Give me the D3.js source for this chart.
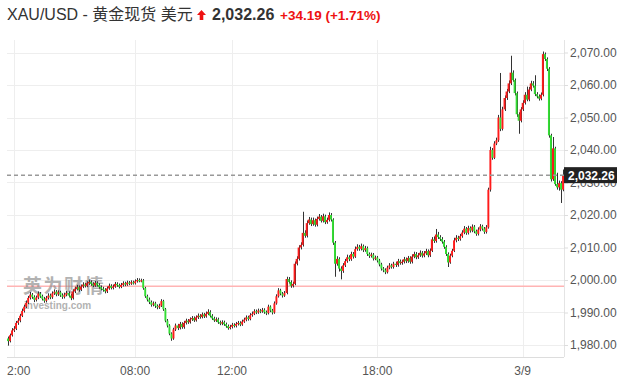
<!DOCTYPE html>
<html><head><meta charset="utf-8">
<script src="https://cdn.jsdelivr.net/npm/d3@7"></script>
<style>
html,body{margin:0;padding:0;background:#fff;}
svg{display:block;}
</style></head>
<body>
<svg id="chart" width="629" height="386"></svg>
<script>
// ---- data (5-minute candles, XAU/USD) ----
const closes = [
1981.2,1983.0,1984.5,1985.0,1986.8,1987.5,1989.0,1990.5,1991.8,1993.0,1994.5,1995.5,
1994.8,1993.9,1994.6,1995.8,1995.0,1994.2,1993.6,1994.5,1995.2,1994.7,1995.9,1996.4,
1995.6,1996.2,1995.3,1994.8,1995.5,1996.0,1995.2,1994.4,1996.5,1997.2,1997.8,1997.0,
1998.0,1998.6,1998.2,1999.0,1999.4,1998.8,1998.3,1999.1,1998.5,1997.8,1997.3,1997.0,
1996.5,1997.4,1998.2,1997.6,1998.0,1998.8,1998.4,1997.9,1998.5,1999.0,1998.6,1999.2,
1998.9,1999.3,1999.0,1999.6,2000.0,1999.8,1999.9,1997.5,1995.0,1994.0,1993.2,1992.4,
1992.8,1992.0,1991.6,1992.1,1993.5,1991.0,1987.5,1986.0,1983.5,1982.0,1984.8,1986.0,
1985.2,1986.5,1985.5,1986.8,1987.5,1987.0,1987.9,1988.3,1987.6,1988.5,1989.0,1988.6,
1989.4,1988.8,1989.6,1990.2,1989.0,1988.2,1987.6,1987.9,1987.0,1986.6,1987.0,1986.4,
1985.8,1985.2,1985.6,1986.2,1985.9,1986.5,1986.8,1986.3,1987.2,1987.8,1988.5,1988.0,
1989.2,1989.6,1990.4,1990.0,1990.6,1990.3,1990.8,1990.1,1989.8,1991.8,1990.6,1990.0,
1992.8,1995.0,1996.8,1995.8,1995.2,1996.0,2000.3,1999.4,1998.2,1998.8,2005.0,2006.5,
2010.0,2010.8,2014.5,2013.6,2017.5,2018.6,2017.2,2018.4,2017.0,2018.8,2019.5,2018.2,
2019.6,2017.8,2018.5,2020.0,2018.6,2011.5,2005.0,2006.5,2003.5,2002.8,2004.5,2005.8,
2007.0,2006.4,2008.0,2007.2,2009.5,2010.2,2009.6,2010.4,2009.2,2009.8,2008.0,2007.4,
2007.8,2006.6,2006.9,2006.0,2004.8,2003.5,2003.0,2002.4,2003.8,2004.5,2004.0,2005.0,
2004.6,2005.8,2005.2,2005.6,2006.4,2005.8,2006.8,2005.6,2007.2,2008.0,2007.0,2007.6,
2008.4,2007.5,2008.2,2008.9,2007.6,2009.0,2012.5,2012.0,2014.0,2013.2,2012.6,2011.8,
2010.2,2008.0,2005.4,2007.5,2009.0,2012.2,2013.0,2012.6,2013.5,2014.6,2015.8,2014.5,
2016.0,2015.2,2016.4,2015.0,2014.2,2015.5,2016.5,2015.8,2014.8,2016.2,2027.8,2040.0,
2037.6,2042.0,2043.0,2050.0,2046.5,2052.5,2056.0,2058.0,2060.5,2063.8,2061.5,2057.5,
2051.0,2049.0,2052.5,2054.5,2057.0,2055.5,2058.6,2060.5,2059.8,2057.2,2056.5,2055.8,
2057.0,2069.5,2068.0,2065.0,2044.5,2031.0,2040.5,2029.5,2028.5,2029.8,2027.8,2032.26
];
const opens = [
1982.0,1981.2,1983.0,1984.5,1985.0,1986.8,1987.5,1989.0,1990.5,1991.8,1993.0,1994.5,
1995.5,1994.8,1993.9,1994.6,1995.8,1995.0,1994.2,1993.6,1994.5,1995.2,1994.7,1995.9,
1996.4,1995.6,1996.2,1995.3,1994.8,1995.5,1996.0,1995.2,1994.4,1996.5,1997.2,1997.8,
1997.0,1998.0,1998.6,1998.2,1999.0,1999.4,1998.8,1998.3,1999.1,1998.5,1997.8,1997.3,
1997.0,1996.5,1997.4,1998.2,1997.6,1998.0,1998.8,1998.4,1997.9,1998.5,1999.0,1998.6,
1999.2,1998.9,1999.3,1999.0,1999.6,2000.0,1999.8,1999.9,1997.5,1995.0,1994.0,1993.2,
1992.4,1992.8,1992.0,1991.6,1992.1,1993.5,1991.0,1987.5,1986.0,1983.5,1982.0,1984.8,
1986.0,1985.2,1986.5,1985.5,1986.8,1987.5,1987.0,1987.9,1988.3,1987.6,1988.5,1989.0,
1988.6,1989.4,1988.8,1989.6,1990.2,1989.0,1988.2,1987.6,1987.9,1987.0,1986.6,1987.0,
1986.4,1985.8,1985.2,1985.6,1986.2,1985.9,1986.5,1986.8,1986.3,1987.2,1987.8,1988.5,
1988.0,1989.2,1989.6,1990.4,1990.0,1990.6,1990.3,1990.8,1990.1,1989.8,1991.8,1990.6,
1990.0,1992.8,1995.0,1996.8,1995.8,1995.2,1996.0,2000.3,1999.4,1998.2,1998.8,2005.0,
2006.5,2010.0,2010.8,2014.5,2013.6,2017.5,2018.6,2017.2,2018.4,2017.0,2018.8,2019.5,
2018.2,2019.6,2017.8,2018.5,2020.0,2018.6,2011.5,2005.0,2006.5,2003.5,2002.8,2004.5,
2005.8,2007.0,2006.4,2008.0,2007.2,2009.5,2010.2,2009.6,2010.4,2009.2,2009.8,2008.0,
2007.4,2007.8,2006.6,2006.9,2006.0,2004.8,2003.5,2003.0,2002.4,2003.8,2004.5,2004.0,
2005.0,2004.6,2005.8,2005.2,2005.6,2006.4,2005.8,2006.8,2005.6,2007.2,2008.0,2007.0,
2007.6,2008.4,2007.5,2008.2,2008.9,2007.6,2009.0,2012.5,2012.0,2014.0,2013.2,2012.6,
2011.8,2010.2,2008.0,2005.4,2007.5,2009.0,2012.2,2013.0,2012.6,2013.5,2014.6,2015.8,
2014.5,2016.0,2015.2,2016.4,2015.0,2014.2,2015.5,2016.5,2015.8,2014.8,2016.2,2027.8,
2040.0,2037.6,2042.0,2043.0,2050.0,2046.5,2052.5,2056.0,2058.0,2060.5,2063.8,2061.5,
2057.5,2051.0,2049.0,2052.5,2054.5,2057.0,2055.5,2058.6,2060.5,2059.8,2057.2,2056.5,
2055.8,2057.0,2069.5,2068.0,2065.0,2044.5,2031.0,2040.5,2029.5,2028.5,2029.8,2027.8
];
const highs = [
1982.6,1983.5,1985.2,1985.8,1987.4,1988.3,1989.6,1991.2,1992.4,1993.7,1995.1,1996.3,
1996.0,1995.3,1995.2,1996.5,1996.3,1995.5,1994.8,1995.1,1995.9,1995.8,1996.5,1997.1,
1996.9,1996.8,1996.7,1995.9,1996.1,1996.7,1996.5,1995.7,1997.1,1997.9,1998.5,1998.3,
1998.6,1999.3,1999.1,1999.6,2000.1,1999.9,1999.3,1999.7,1999.6,1999.0,1998.3,1997.9,
1997.5,1998.0,1998.9,1998.7,1998.6,1999.4,1999.3,1998.9,1999.1,1999.6,1999.5,1999.8,
1999.7,1999.9,1999.8,2000.2,2000.6,2000.5,2000.4,2000.3,1997.9,1995.5,1994.6,1993.7,
1993.4,1993.3,1992.5,1992.7,1994.1,1993.9,1991.4,1988.0,1986.4,1983.9,1985.3,1986.6,
1986.5,1987.1,1987.0,1987.4,1988.1,1988.0,1988.5,1988.9,1988.8,1989.1,1989.7,1989.5,
1990.0,1989.9,1990.3,1991.0,1990.7,1989.5,1988.7,1988.5,1988.4,1987.5,1987.6,1987.5,
1986.9,1986.3,1986.2,1986.8,1986.7,1987.1,1987.4,1987.3,1987.8,1988.4,1989.1,1989.0,
1989.8,1990.3,1991.0,1990.9,1991.2,1991.1,1991.4,1991.3,1990.6,1992.4,1992.2,1991.1,
1993.4,1995.6,1997.5,1997.3,1996.3,1996.6,2001.0,2000.9,1999.9,1999.5,2005.7,2007.3,
2010.7,2011.6,2021.0,2015.3,2018.3,2019.4,2019.2,2019.2,2018.9,2019.5,2020.3,2020.0,
2020.4,2020.1,2019.2,2020.8,2020.6,2019.0,2012.0,2007.3,2007.0,2004.2,2005.2,2006.5,
2007.8,2007.6,2008.7,2008.6,2010.3,2011.0,2010.8,2011.2,2010.9,2010.5,2010.3,2008.5,
2008.4,2008.3,2007.5,2007.4,2006.5,2005.3,2004.0,2003.6,2004.4,2005.2,2005.0,2005.6,
2005.6,2006.5,2006.3,2006.2,2007.1,2006.9,2007.4,2007.3,2007.9,2008.7,2008.6,2008.3,
2009.1,2008.9,2008.9,2009.6,2009.4,2009.7,2013.2,2013.4,2015.7,2014.8,2013.8,2013.2,
2012.3,2010.7,2008.5,2008.1,2009.6,2013.0,2013.8,2013.6,2014.2,2015.3,2016.6,2016.3,
2016.7,2016.5,2017.1,2016.9,2015.5,2016.2,2017.2,2017.0,2016.3,2016.9,2028.4,2041.0,
2040.6,2042.7,2043.8,2050.8,2063.7,2053.3,2056.8,2058.8,2061.4,2069.0,2064.5,2062.0,
2058.0,2051.6,2053.2,2055.3,2057.8,2059.5,2059.4,2061.3,2061.2,2063.0,2057.8,2057.1,
2057.7,2070.3,2070.0,2068.5,2065.5,2045.0,2044.0,2041.0,2033.0,2030.6,2030.4,2034.0
];
const lows = [
1979.8,1980.8,1982.6,1984.0,1984.6,1986.2,1987.0,1988.6,1990.0,1991.3,1992.6,1994.0,
1994.2,1993.2,1993.4,1994.1,1994.5,1993.7,1993.0,1993.1,1994.0,1994.1,1994.2,1995.4,
1995.0,1995.1,1994.8,1994.2,1994.3,1995.0,1994.7,1993.8,1994.0,1996.0,1996.8,1996.4,
1996.6,1997.5,1997.7,1997.8,1998.5,1998.2,1997.8,1997.9,1998.0,1997.3,1996.8,1996.4,
1995.9,1996.0,1997.0,1997.1,1997.1,1997.6,1997.9,1997.4,1997.5,1998.0,1998.1,1998.2,
1998.4,1998.5,1998.6,1998.6,1999.2,1999.3,1999.3,1997.0,1994.5,1993.4,1992.6,1991.8,
1991.9,1991.4,1991.0,1991.1,1991.7,1990.5,1987.0,1985.4,1983.0,1981.3,1981.6,1984.3,
1984.6,1984.8,1985.0,1985.0,1986.3,1986.5,1986.6,1987.4,1987.1,1987.2,1988.0,1988.1,
1988.2,1988.3,1988.4,1989.2,1988.5,1987.7,1987.1,1987.1,1986.5,1986.1,1986.1,1985.9,
1985.3,1984.7,1984.8,1985.1,1985.4,1985.4,1986.0,1985.8,1985.9,1986.8,1987.3,1987.5,
1987.6,1988.7,1989.2,1989.5,1989.6,1989.8,1989.9,1989.6,1989.2,1989.4,1990.1,1989.4,
1989.6,1992.4,1994.6,1995.3,1994.6,1994.8,1995.6,1998.9,1997.6,1997.7,1998.4,2004.5,
2006.0,2009.4,2010.3,2013.0,2013.1,2017.0,2016.6,2016.7,2016.4,2016.5,2018.3,2017.7,
2017.7,2017.2,2017.3,2018.0,2018.0,2010.8,2001.0,2004.4,2002.6,2000.2,2002.2,2004.0,
2005.3,2005.8,2005.9,2006.6,2006.8,2009.0,2009.0,2009.1,2008.6,2008.7,2007.4,2006.8,
2006.9,2006.0,2006.1,2005.4,2004.2,2002.9,2002.4,2001.8,2002.0,2003.3,2003.5,2003.5,
2004.0,2004.1,2004.7,2004.7,2005.1,2005.2,2005.3,2005.0,2005.1,2006.7,2006.4,2006.5,
2007.1,2006.9,2007.0,2007.7,2007.0,2007.1,2008.6,2011.4,2011.5,2012.6,2012.0,2011.2,
2009.6,2007.4,2004.0,2005.0,2007.0,2008.6,2011.6,2012.0,2012.1,2013.0,2014.1,2013.9,
2014.0,2014.6,2014.7,2014.4,2013.6,2013.7,2015.0,2015.2,2014.2,2014.3,2015.8,2027.2,
2037.0,2037.2,2041.5,2042.5,2045.8,2046.0,2052.0,2055.4,2057.5,2060.0,2061.0,2056.8,
2050.2,2045.0,2048.5,2052.0,2054.0,2055.0,2055.0,2058.1,2059.2,2056.6,2055.9,2055.2,
2055.3,2056.5,2067.4,2064.3,2043.8,2030.3,2030.5,2029.0,2027.8,2027.5,2023.7,2027.3
];
const yTicks = [1980, 1990, 2000, 2010, 2020, 2030, 2040, 2050, 2060, 2070];
const xTickIdx = [3, 63, 111, 183, 255];
const xTickLabels = ["2:00", "08:00", "12:00", "18:00", "3/9"];
const lastPrice = 2032.26;
const prevClose = 1998.07;
const titleText = "XAU/USD - 黄金现货 美元";
const priceText = "2,032.26";
const changeText = "+34.19 (+1.71%)";

// ---- layout ----
const L = 7, R = 564, T = 40, B = 357;
const svg = d3.select("#chart");
const n = closes.length;
const x = d3.scaleBand().domain(d3.range(n)).range([L, R]).paddingInner(0.05).paddingOuter(0);
const y = d3.scaleLinear().domain([1980, 2070]).range([345, 52.5]);
const cx = i => x(i) + x.bandwidth() / 2;
const FONT = "'Liberation Sans', Arial, 'Noto Sans CJK SC', sans-serif";

// grid
const grid = svg.append("g");
grid.selectAll("line.h").data(yTicks).join("line")
  .attr("x1", L).attr("x2", R).attr("y1", d => Math.round(y(d)) + 0.5).attr("y2", d => Math.round(y(d)) + 0.5)
  .attr("stroke", "#eeeeee").attr("stroke-width", 1);
grid.selectAll("line.v").data(xTickIdx).join("line")
  .attr("x1", d => Math.round(cx(d)) + 0.5).attr("x2", d => Math.round(cx(d)) + 0.5)
  .attr("y1", T).attr("y2", B)
  .attr("stroke", "#eeeeee").attr("stroke-width", 1);
// right border
svg.append("line").attr("x1", R + 0.5).attr("x2", R + 0.5).attr("y1", T).attr("y2", B)
  .attr("stroke", "#e4e4e4");

// previous close line
svg.append("line").attr("x1", L).attr("x2", R).attr("y1", y(prevClose)).attr("y2", y(prevClose))
  .attr("stroke", "#ffb4b4").attr("stroke-width", 1.5);

// watermark
const wm = svg.append("g").attr("opacity", 0.65);
wm.append("text").attr("x", 23).attr("y", 293).text("英为财情")
  .attr("font-family", "'Noto Sans CJK SC', sans-serif").attr("font-weight", "bold")
  .attr("font-size", 19).attr("fill", "#8a8a8a").attr("letter-spacing", 1.5);
wm.append("text").attr("x", 24).attr("y", 309).text("investing.com")
  .attr("font-family", FONT).attr("font-weight", "bold")
  .attr("font-size", 10).attr("fill", "#8a8a8a");

// candles
const idx = d3.range(n);
const cg = svg.append("g");
cg.selectAll("line.wick").data(idx).join("line")
  .attr("x1", i => Math.round(cx(i)) + 0.5).attr("x2", i => Math.round(cx(i)) + 0.5)
  .attr("y1", i => y(Math.max(highs[i], opens[i], closes[i])))
  .attr("y2", i => y(Math.min(lows[i], opens[i], closes[i])))
  .attr("stroke", "#333").attr("stroke-width", 1);
cg.selectAll("rect.body").data(idx).join("rect")
  .attr("x", i => x(i))
  .attr("width", x.bandwidth())
  .attr("y", i => y(Math.max(opens[i], closes[i])))
  .attr("height", i => Math.max(1.2, Math.abs(y(opens[i]) - y(closes[i]))))
  .attr("fill", i => closes[i] >= opens[i] ? "#ff1a1a" : "#33dd33");

// last price dashed line
svg.append("line").attr("x1", L).attr("x2", R).attr("y1", y(lastPrice)).attr("y2", y(lastPrice))
  .attr("stroke", "#999").attr("stroke-width", 1.5).attr("stroke-dasharray", "4,3");

// right axis
const ya = svg.append("g").attr("transform", `translate(${R},0)`)
  .call(d3.axisRight(y).tickValues(yTicks).tickFormat(d3.format(",.2f")).tickSize(4).tickPadding(2));
ya.select(".domain").remove();
ya.selectAll(".tick line").attr("stroke", "#ddd");
ya.selectAll(".tick text").attr("font-family", FONT).attr("font-size", 12).attr("fill", "#555");

// bottom axis
const xa = svg.append("g").attr("transform", `translate(0,${B})`)
  .call(d3.axisBottom(x).tickValues(xTickIdx).tickFormat((d, k) => xTickLabels[k]).tickSize(0).tickPadding(9));
xa.select(".domain").attr("stroke", "#ddd").attr("d", `M${L},0.5H${R}`);
xa.selectAll(".tick text").attr("font-family", FONT).attr("font-size", 12).attr("fill", "#555");
xa.selectAll(".tick").filter((d, k) => k === 0).select("text")
  .attr("text-anchor", "start").attr("x", L - cx(xTickIdx[0]));

// last price label
const lp = svg.append("g").attr("transform", `translate(${R},${y(lastPrice)})`);
lp.append("rect").attr("x", 0).attr("y", -8).attr("width", 53).attr("height", 16).attr("fill", "#222");
lp.append("text").attr("x", 4).attr("y", 4.5).text(d3.format(",.2f")(lastPrice))
  .attr("font-family", FONT).attr("font-size", 12).attr("font-weight", "bold").attr("fill", "#fff");

// title
const tg = svg.append("g");
tg.append("text").attr("x", 7).attr("y", 20).text(titleText)
  .attr("font-family", FONT).attr("font-size", 16).attr("fill", "#333");
tg.append("path").attr("d", "M201.5,10 L206,15 L203.3,15 L203.3,20 L199.7,20 L199.7,15 L197,15 Z").attr("fill", "#ee1111");
tg.append("text").attr("x", 212).attr("y", 20).text(priceText)
  .attr("font-family", FONT).attr("font-size", 16).attr("font-weight", "bold").attr("fill", "#333");
tg.append("text").attr("x", 280).attr("y", 20).text(changeText)
  .attr("font-family", FONT).attr("font-size", 13.5).attr("font-weight", "bold").attr("fill", "#ee1111");
</script>
</body></html>
